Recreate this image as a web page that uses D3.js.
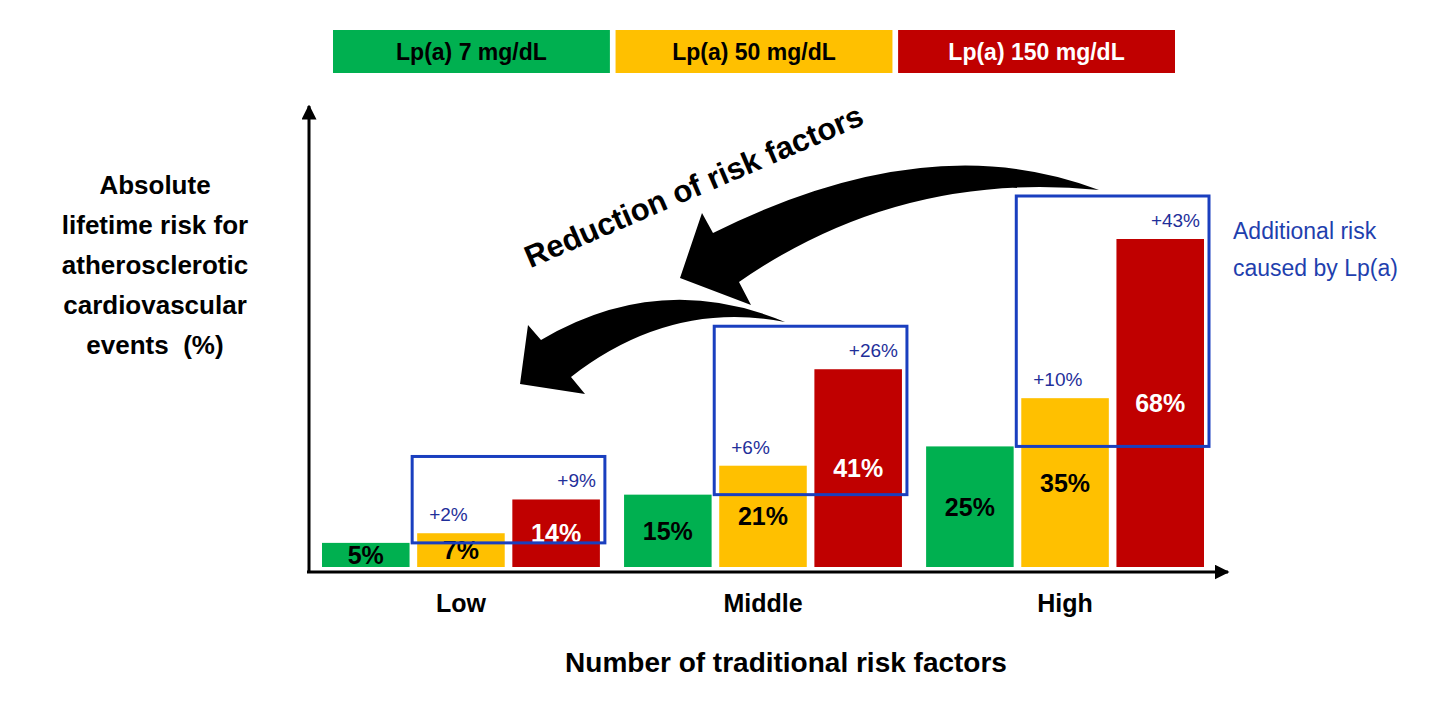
<!DOCTYPE html>
<html>
<head>
<meta charset="utf-8">
<script src="https://cdn.jsdelivr.net/npm/d3@7"></script>
<style>
body { margin: 0; background: #fff; }
text { font-family: Arial, "Liberation Sans", sans-serif; }
</style>
</head>
<body>
<div class="canvas"></div>
<script>
const categories = ['Low', 'Middle', 'High']
const seriesNames = ['Lp(a) 7 mg/dL', 'Lp(a) 50 mg/dL', 'Lp(a) 150 mg/dL']
const low7 = [5, 15, 25]
const mid50 = [7, 21, 35]
const high150 = [14, 41, 68]
const extra50 = ['+2%', '+6%', '+10%']
const extra150 = ['+9%', '+26%', '+43%']
const colors = ['#00b050', '#ffc000', '#c00000']
const textColors = ['#000', '#000', '#fff']

const W = 1456, H = 705
const svg = d3.select('.canvas').append('svg').attr('width', W).attr('height', H)

// legend boxes
const lx = d3.scaleBand().domain(seriesNames).range([333, 1175]).paddingInner(0.02)
seriesNames.forEach((s, i) => {
    svg.append('rect').attr('x', lx(s)).attr('y', 30).attr('width', lx.bandwidth()).attr('height', 43).attr('fill', colors[i])
    svg.append('text').attr('x', lx(s) + lx.bandwidth() / 2).attr('y', 60).attr('text-anchor', 'middle')
        .attr('font-size', 23).attr('font-weight', 'bold').attr('fill', textColors[i]).text(s)
})

// scales
const x = d3.scaleBand().domain(categories).range([322, 1204]).paddingInner(0.08).paddingOuter(0)
const x1 = d3.scaleBand().domain([0, 1, 2]).range([0, x.bandwidth()]).paddingInner(0.08)
const y = d3.scaleLinear().domain([0, 68]).range([567, 239])

// axes with arrows
svg.append('defs').append('marker').attr('id', 'ah').attr('viewBox', '0 0 10 10').attr('refX', 9).attr('refY', 5)
    .attr('markerWidth', 5).attr('markerHeight', 5).attr('orient', 'auto')
    .append('path').attr('d', 'M0,0L10,5L0,10z').attr('fill', '#000')
svg.append('line').attr('x1', 309).attr('y1', 573).attr('x2', 309).attr('y2', 106).attr('stroke', '#000').attr('stroke-width', 3).attr('marker-end', 'url(#ah)')
svg.append('line').attr('x1', 307).attr('y1', 572).attr('x2', 1228).attr('y2', 572).attr('stroke', '#000').attr('stroke-width', 3).attr('marker-end', 'url(#ah)')

const series = [low7, mid50, high150]
categories.forEach((c, ci) => {
    series.forEach((vals, si) => {
        const bx = x(c) + x1(si)
        svg.append('rect').attr('x', bx).attr('y', y(vals[ci])).attr('width', x1.bandwidth())
            .attr('height', y(0) - y(vals[ci])).attr('fill', colors[si])
        svg.append('text').attr('x', bx + x1.bandwidth() / 2).attr('y', (y(0) + y(vals[ci])) / 2 + 9)
            .attr('text-anchor', 'middle').attr('font-size', 25).attr('font-weight', 'bold')
            .attr('fill', textColors[si]).text(vals[ci] + '%')
    })
    // additional-risk box
    const bx0 = x(c) + x1(1) - 5
    const bx1 = x(c) + x1(2) + x1.bandwidth() + 5
    const top = y(high150[ci]) - 43
    svg.append('rect').attr('x', bx0).attr('y', top).attr('width', bx1 - bx0).attr('height', y(low7[ci]) - top)
        .attr('fill', 'none').attr('stroke', '#1a3fbf').attr('stroke-width', 3)
    svg.append('text').attr('x', x(c) + x1(1) + 12).attr('y', y(mid50[ci]) - 12).attr('font-size', 19)
        .attr('fill', '#1f2f9a').text(extra50[ci])
    svg.append('text').attr('x', x(c) + x1(2) + x1.bandwidth() - 4).attr('y', y(high150[ci]) - 12).attr('font-size', 19)
        .attr('text-anchor', 'end').attr('fill', '#1f2f9a').text(extra150[ci])
    svg.append('text').attr('x', x(c) + x.bandwidth() / 2).attr('y', 612).attr('text-anchor', 'middle')
        .attr('font-size', 25).attr('font-weight', 'bold').text(c)
})

// axis titles
const yTitle = ['Absolute', 'lifetime risk for', 'atherosclerotic', 'cardiovascular', 'events  (%)']
yTitle.forEach((t, i) => {
    svg.append('text').attr('x', 155).attr('y', 194 + i * 40).attr('text-anchor', 'middle')
        .attr('font-size', 26).attr('font-weight', 'bold').attr('xml:space', 'preserve').text(t)
})
svg.append('text').attr('x', 786).attr('y', 672).attr('text-anchor', 'middle')
    .attr('font-size', 28).attr('font-weight', 'bold').text('Number of traditional risk factors')

svg.append('text').attr('x', 1233).attr('y', 239).attr('font-size', 23).attr('fill', '#1f3fae').text('Additional risk')
svg.append('text').attr('x', 1233).attr('y', 276).attr('font-size', 23).attr('fill', '#1f3fae').text('caused by Lp(a)')

// curved arrows
svg.append('path').attr('fill', '#000')
    .attr('d', 'M1099,190 Q930,125 713,233 L702,213 L680,278 L751,305 L739,282 Q900,170 1099,190 Z')
svg.append('path').attr('fill', '#000')
    .attr('d', 'M785,322 Q660,270 541,340 L528,325 L520,384 L585,394 L571,377 Q670,300 785,322 Z')
svg.append('text').attr('transform', 'translate(698,196) rotate(-23.3)').attr('text-anchor', 'middle')
    .attr('font-size', 31).attr('font-weight', 'bold').text('Reduction of risk factors')
</script>
</body>
</html>
